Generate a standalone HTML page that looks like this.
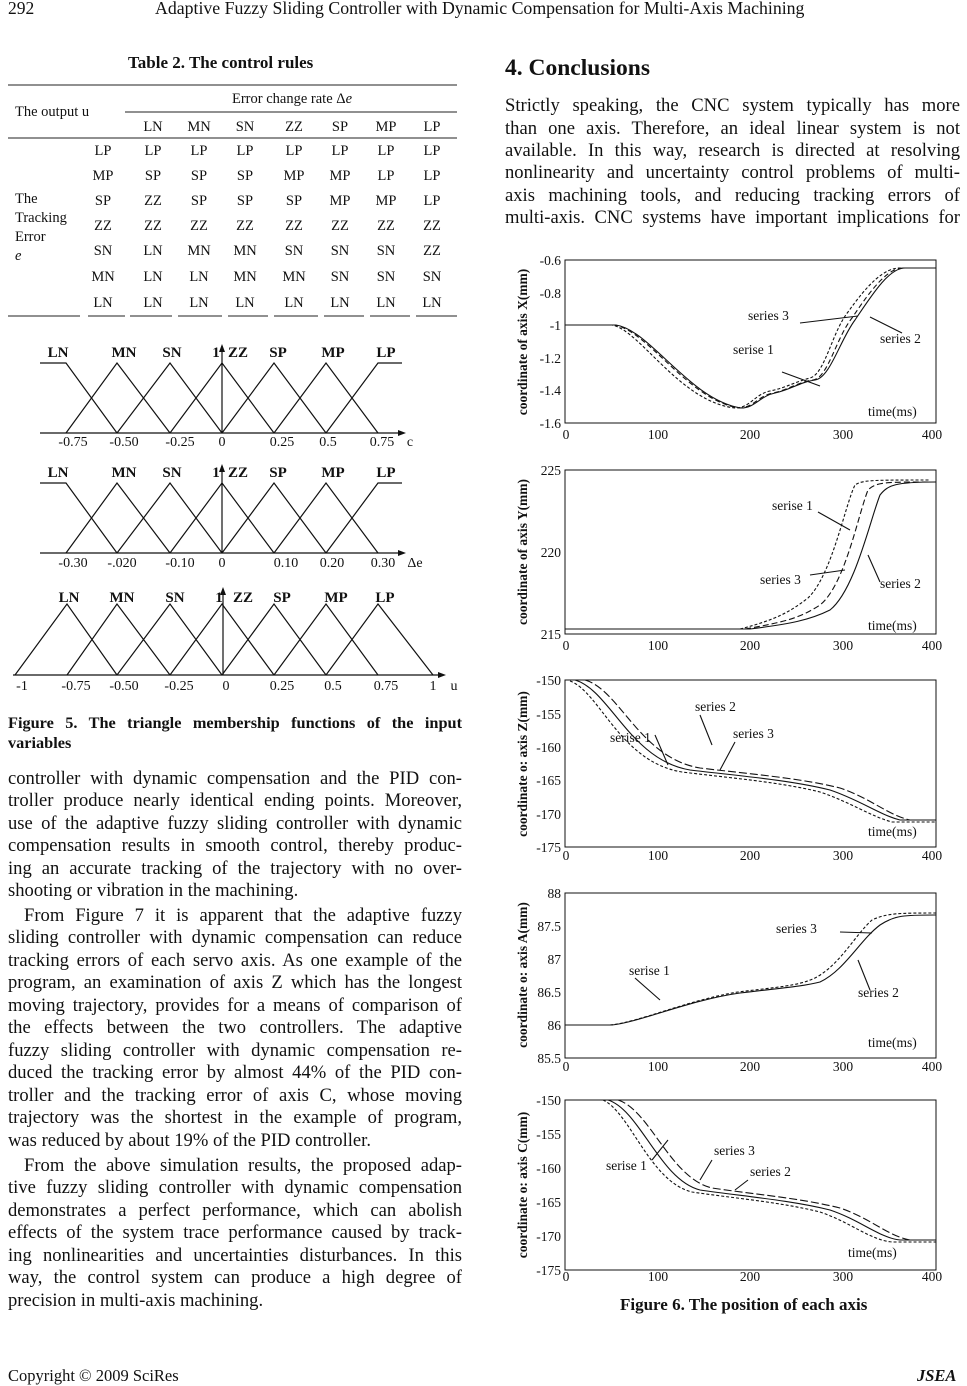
<!DOCTYPE html>
<html><head><meta charset="utf-8"><style>
body{margin:0;background:#fff;}
#p{position:relative;width:967px;height:1386px;overflow:hidden;font-family:"Liberation Serif",serif;color:#111;}
.a{position:absolute;white-space:nowrap;}
.l{position:absolute;font-size:18.6px;text-align:justify;text-align-last:justify;white-space:nowrap;line-height:21px;}
.l.e{text-align-last:left;}
svg{position:absolute;left:0;top:0;}
</style></head><body><div id="p">
<div class="a" style="left:8px;top:-2px;font-size:17.5px;">292</div>
<div class="a" style="left:155px;top:-2px;font-size:17.8px;">Adaptive Fuzzy Sliding Controller with Dynamic Compensation for Multi-Axis Machining</div>

<div class="a" style="left:128px;top:53px;font-size:17px;font-weight:bold;">Table 2. The control rules</div>
<div class="a" style="left:15px;top:104px;font-size:14.5px;">The output u</div>
<div class="a" style="left:232px;top:91px;font-size:14.5px;">Error change rate Δ<i>e</i></div>
<div class="a" style="left:15px;top:190px;font-size:14.5px;line-height:19px;">The<br>Tracking<br>Error<br><i>e</i></div>

<div class="l" style="left:8px;width:454px;top:768px;">controller with dynamic compensation and the PID con-</div>
<div class="l" style="left:8px;width:454px;top:790px;">troller produce nearly identical ending points. Moreover,</div>
<div class="l" style="left:8px;width:454px;top:813px;">use of the adaptive fuzzy sliding controller with dynamic</div>
<div class="l" style="left:8px;width:454px;top:835px;">compensation results in smooth control, thereby produc-</div>
<div class="l" style="left:8px;width:454px;top:858px;">ing an accurate tracking of the trajectory with no over-</div>
<div class="l e" style="left:8px;width:454px;top:880px;">shooting or vibration in the machining.</div>
<div class="l" style="left:24px;width:438px;top:905px;">From Figure 7 it is apparent that the adaptive fuzzy</div>
<div class="l" style="left:8px;width:454px;top:927px;">sliding controller with dynamic compensation can reduce</div>
<div class="l" style="left:8px;width:454px;top:950px;">tracking errors of each servo axis. As one example of the</div>
<div class="l" style="left:8px;width:454px;top:972px;">program, an examination of axis Z which has the longest</div>
<div class="l" style="left:8px;width:454px;top:995px;">moving trajectory, provides for a means of comparison of</div>
<div class="l" style="left:8px;width:454px;top:1017px;">the effects between the two controllers. The adaptive</div>
<div class="l" style="left:8px;width:454px;top:1040px;">fuzzy sliding controller with dynamic compensation re-</div>
<div class="l" style="left:8px;width:454px;top:1062px;">duced the tracking error by almost 44% of the PID con-</div>
<div class="l" style="left:8px;width:454px;top:1085px;">troller and the tracking error of axis C, whose moving</div>
<div class="l" style="left:8px;width:454px;top:1107px;">trajectory was the shortest in the example of program,</div>
<div class="l e" style="left:8px;width:454px;top:1130px;">was reduced by about 19% of the PID controller.</div>
<div class="l" style="left:24px;width:438px;top:1155px;">From the above simulation results, the proposed adap-</div>
<div class="l" style="left:8px;width:454px;top:1177px;">tive fuzzy sliding controller with dynamic compensation</div>
<div class="l" style="left:8px;width:454px;top:1200px;">demonstrates a perfect performance, which can abolish</div>
<div class="l" style="left:8px;width:454px;top:1222px;">effects of the system trace performance caused by track-</div>
<div class="l" style="left:8px;width:454px;top:1245px;">ing nonlinearities and uncertainties disturbances. In this</div>
<div class="l" style="left:8px;width:454px;top:1267px;">way, the control system can produce a high degree of</div>
<div class="l e" style="left:8px;width:454px;top:1290px;">precision in multi-axis machining.</div>

<div class="l" style="left:8px;width:454px;top:712px;font-size:16.3px;font-weight:bold;">Figure 5. The triangle membership functions of the input</div>
<div class="a" style="left:8px;top:733px;font-size:16.3px;font-weight:bold;">variables</div>

<div class="a" style="left:505px;top:55px;font-size:23.5px;font-weight:bold;">4. Conclusions</div>
<div class="l" style="left:505px;width:455px;top:95px;">Strictly speaking, the CNC system typically has more</div>
<div class="l" style="left:505px;width:455px;top:118px;">than one axis. Therefore, an ideal linear system is not</div>
<div class="l" style="left:505px;width:455px;top:140px;">available. In this way, research is directed at resolving</div>
<div class="l" style="left:505px;width:455px;top:162px;">nonlinearity and uncertainty control problems of multi-</div>
<div class="l" style="left:505px;width:455px;top:185px;">axis machining tools, and reducing tracking errors of</div>
<div class="l" style="left:505px;width:455px;top:207px;">multi-axis. CNC systems have important implications for</div>

<div class="a" style="left:620px;top:1295px;font-size:17px;font-weight:bold;">Figure 6. The position of each axis</div>
<div class="a" style="left:8px;top:1366px;font-size:16.5px;">Copyright © 2009 SciRes</div>
<div class="a" style="left:917px;top:1366px;font-size:16.5px;font-weight:bold;font-style:italic;">JSEA</div>

<svg width="967" height="1386" viewBox="0 0 967 1386" font-family="Liberation Serif, serif" fill="#111">
<g stroke="#222" stroke-width="1">
<line x1="8" y1="85" x2="457" y2="85"/>
<line x1="125" y1="112" x2="457" y2="112"/>
<line x1="8" y1="138" x2="457" y2="138"/>
<path d="M8 316H80M88 316H125M130 316H172M178 316H222M228 316H268M274 316H318M324 316H364M370 316H410M416 316H457"/>
</g>
<g font-size="14.5" text-anchor="middle">
<text x="153" y="131">LN</text><text x="199" y="131">MN</text><text x="245" y="131">SN</text><text x="294" y="131">ZZ</text><text x="340" y="131">SP</text><text x="386" y="131">MP</text><text x="432" y="131">LP</text>
<text x="103" y="155">LP</text><text x="153" y="155">LP</text><text x="199" y="155">LP</text><text x="245" y="155">LP</text><text x="294" y="155">LP</text><text x="340" y="155">LP</text><text x="386" y="155">LP</text><text x="432" y="155">LP</text>
<text x="103" y="180">MP</text><text x="153" y="180">SP</text><text x="199" y="180">SP</text><text x="245" y="180">SP</text><text x="294" y="180">MP</text><text x="340" y="180">MP</text><text x="386" y="180">LP</text><text x="432" y="180">LP</text>
<text x="103" y="205">SP</text><text x="153" y="205">ZZ</text><text x="199" y="205">SP</text><text x="245" y="205">SP</text><text x="294" y="205">SP</text><text x="340" y="205">MP</text><text x="386" y="205">MP</text><text x="432" y="205">LP</text>
<text x="103" y="230">ZZ</text><text x="153" y="230">ZZ</text><text x="199" y="230">ZZ</text><text x="245" y="230">ZZ</text><text x="294" y="230">ZZ</text><text x="340" y="230">ZZ</text><text x="386" y="230">ZZ</text><text x="432" y="230">ZZ</text>
<text x="103" y="255">SN</text><text x="153" y="255">LN</text><text x="199" y="255">MN</text><text x="245" y="255">MN</text><text x="294" y="255">SN</text><text x="340" y="255">SN</text><text x="386" y="255">SN</text><text x="432" y="255">ZZ</text>
<text x="103" y="281">MN</text><text x="153" y="281">LN</text><text x="199" y="281">LN</text><text x="245" y="281">MN</text><text x="294" y="281">MN</text><text x="340" y="281">SN</text><text x="386" y="281">SN</text><text x="432" y="281">SN</text>
<text x="103" y="307">LN</text><text x="153" y="307">LN</text><text x="199" y="307">LN</text><text x="245" y="307">LN</text><text x="294" y="307">LN</text><text x="340" y="307">LN</text><text x="386" y="307">LN</text><text x="432" y="307">LN</text>
</g>

<g stroke="#111" stroke-width="1.2" fill="none">
<path d="M40 363H66L117 433M66 433L117 363L170 433M117 433L170 363L222 433M170 433L222 363L274 433M222 433L274 363L326 433M274 433L326 363L378 433M326 433L378 363H402"/>
<path d="M40 433H402M222 433V346"/>
<path d="M40 483H66L117 553M66 553L117 483L170 553M117 553L170 483L222 553M170 553L222 483L274 553M222 553L274 483L326 553M274 553L326 483L378 553M326 553L378 483H402"/>
<path d="M40 553H402M222 553V466"/>
<path d="M15 675L67 604L117 675M67 675L117 604L170 675M117 675L170 604L222 675M170 675L222 604L274 675M222 675L274 604L326 675M274 675L326 604L378 675M326 675L378 604L433 675"/>
<path d="M13 675H442M223 675V589"/>
</g>
<g fill="#111"><path d="M406 433l-8-3v6z"/><path d="M222 344l-3 8h6z"/><path d="M406 553l-8-3v6z"/><path d="M222 464l-3 8h6z"/><path d="M446 675l-8-3v6z"/><path d="M223 587l-3 8h6z"/></g>
<g font-size="15" font-weight="bold" text-anchor="middle">
<text x="58" y="357">LN</text><text x="124" y="357">MN</text><text x="172" y="357">SN</text><text x="216" y="357">1</text><text x="238" y="357">ZZ</text><text x="278" y="357">SP</text><text x="333" y="357">MP</text><text x="386" y="357">LP</text>
<text x="58" y="477">LN</text><text x="124" y="477">MN</text><text x="172" y="477">SN</text><text x="216" y="477">1</text><text x="238" y="477">ZZ</text><text x="278" y="477">SP</text><text x="333" y="477">MP</text><text x="386" y="477">LP</text>
<text x="69" y="602">LN</text><text x="122" y="602">MN</text><text x="175" y="602">SN</text><text x="219" y="602">1</text><text x="243" y="602">ZZ</text><text x="282" y="602">SP</text><text x="336" y="602">MP</text><text x="385" y="602">LP</text>
</g>
<g font-size="14" text-anchor="middle">
<text x="73" y="446">-0.75</text><text x="124" y="446">-0.50</text><text x="180" y="446">-0.25</text><text x="222" y="446">0</text><text x="282" y="446">0.25</text><text x="328" y="446">0.5</text><text x="382" y="446">0.75</text><text x="410" y="446">c</text>
<text x="73" y="567">-0.30</text><text x="122" y="567">-.020</text><text x="180" y="567">-0.10</text><text x="222" y="567">0</text><text x="286" y="567">0.10</text><text x="332" y="567">0.20</text><text x="383" y="567">0.30</text><text x="415" y="567">Δe</text>
<text x="22" y="690">-1</text><text x="76" y="690">-0.75</text><text x="124" y="690">-0.50</text><text x="179" y="690">-0.25</text><text x="226" y="690">0</text><text x="282" y="690">0.25</text><text x="333" y="690">0.5</text><text x="386" y="690">0.75</text><text x="433" y="690">1</text><text x="454" y="690">u</text>
</g>

<g stroke="#111" stroke-width="1" fill="none">
<rect x="565" y="260" width="371" height="163"/>
<rect x="565" y="470" width="371" height="164"/>
<rect x="565" y="680" width="371" height="167"/>
<rect x="565" y="893" width="371" height="165"/>
<rect x="565" y="1100" width="371" height="170"/>
</g>
<g font-size="13.5" text-anchor="end">
<text x="561" y="265">-0.6</text><text x="561" y="298">-0.8</text><text x="561" y="330">-1</text><text x="561" y="363">-1.2</text><text x="561" y="395">-1.4</text><text x="561" y="428">-1.6</text>
<text x="561" y="475">225</text><text x="561" y="557">220</text><text x="561" y="639">215</text>
<text x="561" y="685">-150</text><text x="561" y="719">-155</text><text x="561" y="752">-160</text><text x="561" y="785">-165</text><text x="561" y="819">-170</text><text x="561" y="852">-175</text>
<text x="561" y="898">88</text><text x="561" y="931">87.5</text><text x="561" y="964">87</text><text x="561" y="997">86.5</text><text x="561" y="1030">86</text><text x="561" y="1063">85.5</text>
<text x="561" y="1105">-150</text><text x="561" y="1139">-155</text><text x="561" y="1173">-160</text><text x="561" y="1207">-165</text><text x="561" y="1241">-170</text><text x="561" y="1275">-175</text>
</g>
<g font-size="13.5" text-anchor="middle">
<g id="xt"><text x="566" y="439">0</text><text x="658" y="439">100</text><text x="750" y="439">200</text><text x="843" y="439">300</text><text x="932" y="439">400</text></g>
<use href="#xt" y="211"/><use href="#xt" y="421"/><use href="#xt" y="632"/><use href="#xt" y="842"/>
</g>
<g font-size="13.5" font-weight="bold" text-anchor="middle">
<text transform="translate(527,342) rotate(-90)">coordinate of axis X(mm)</text>
<text transform="translate(527,552) rotate(-90)">coordinate of axis Y(mm)</text>
<text transform="translate(527,764) rotate(-90)">coordinate o: axis Z(mm)</text>
<text transform="translate(527,975) rotate(-90)">coordinate o: axis A(mm)</text>
<text transform="translate(527,1185) rotate(-90)">coordinate o: axis C(mm)</text>
</g>
<g font-size="13.5">
<text x="868" y="416">time(ms)</text><text x="868" y="630">time(ms)</text><text x="868" y="836">time(ms)</text><text x="868" y="1047">time(ms)</text><text x="848" y="1257">time(ms)</text>
<text x="748" y="320">series 3</text><text x="733" y="354">serise 1</text><text x="880" y="343">series 2</text>
<text x="772" y="510">serise 1</text><text x="760" y="584">series 3</text><text x="880" y="588">series 2</text>
<text x="695" y="711">series 2</text><text x="610" y="742">serise 1</text><text x="733" y="738">series 3</text>
<text x="776" y="933">series 3</text><text x="629" y="975">serise 1</text><text x="858" y="997">series 2</text>
<text x="714" y="1155">series 3</text><text x="606" y="1170">serise 1</text><text x="750" y="1176">series 2</text>
</g>
<g stroke="#111" stroke-width="1.1" fill="none">
<path d="M565 325H616C650 330 690 400 741 408C755 408 760 396 775 393C790 390 800 382 815 380C830 378 840 340 855 320C875 290 890 268 905 268H936"/>
<path d="M565 325H614C648 330 688 400 739 408C753 408 758 396 773 393C788 390 798 382 813 380C828 378 836 338 852 318C872 288 888 268 903 268H936" stroke-dasharray="5,3"/>
<path d="M565 325H612C640 330 680 402 735 408C750 408 755 394 770 391C785 388 795 382 810 378C825 374 832 332 848 312C868 284 884 268 900 268H936" stroke-dasharray="3,2"/>
<path d="M800 323L858 316M782 372L820 386M902 333L870 317"/>
<path d="M565 629H750C790 624 810 620 830 610C855 590 870 520 880 495C888 485 895 482 936 482"/>
<path d="M565 629H745C785 622 800 618 820 605C845 585 858 515 868 490C876 482 885 482 930 482" stroke-dasharray="6,3"/>
<path d="M565 629H740C775 620 790 612 808 598C832 575 845 505 855 485C862 480 872 480 930 480" stroke-dasharray="3,2"/>
<path d="M818 512L850 530M810 575L845 570M880 582L868 555"/>
<path d="M575 680C610 690 630 760 690 770C740 776 790 780 830 790C860 800 880 815 900 820H936"/>
<path d="M585 680C620 690 640 758 700 768C750 774 800 778 840 788C870 798 888 815 910 820H936" stroke-dasharray="8,3"/>
<path d="M570 681C600 692 620 762 682 772C730 778 780 782 820 792C850 802 870 816 892 822H936" stroke-dasharray="3,2"/>
<path d="M655 735L668 765M700 715L712 745M735 742L720 770"/>
<path d="M565 1025H612C640 1022 690 1000 740 993C780 988 800 987 820 982C845 970 860 940 880 925C895 915 905 915 936 915"/>
<path d="M565 1025H610C640 1022 688 1000 738 992C778 987 798 986 815 978C840 965 855 935 872 920C887 913 900 913 936 913" stroke-dasharray="3,2"/>
<path d="M635 978L660 1000M840 932L872 933M870 990L858 960"/>
<path d="M608 1100C640 1110 660 1180 700 1190C740 1196 790 1200 830 1210C860 1220 880 1238 900 1240H936"/>
<path d="M618 1100C650 1110 670 1178 712 1188C752 1194 800 1198 840 1208C870 1218 888 1236 910 1240H936" stroke-dasharray="8,3"/>
<path d="M603 1100C630 1112 650 1182 692 1192C732 1198 780 1202 820 1212C850 1222 870 1240 892 1242H936" stroke-dasharray="3,2"/>
<path d="M652 1160L668 1140M712 1160L700 1180M748 1180L735 1190"/>
</g>
</svg>
</div></body></html>
